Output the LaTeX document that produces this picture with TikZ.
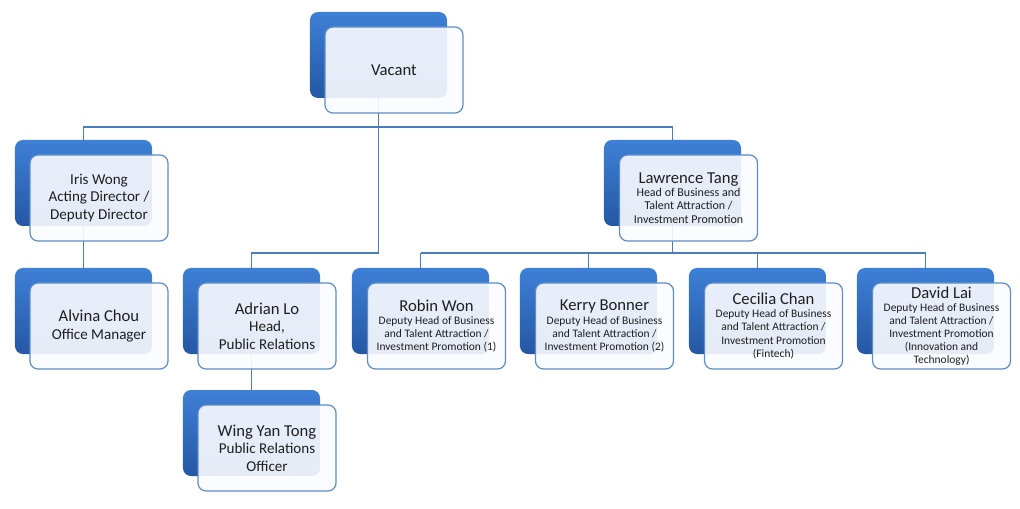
\documentclass[tikz,border=0pt]{standalone}
\usepackage{fontspec}
\setmainfont{Carlito}
\usetikzlibrary{positioning,calc}
\definecolor{orgtop}{RGB}{62,128,214}
\definecolor{orgbot}{RGB}{37,87,164}
\definecolor{orgline}{RGB}{74,126,187}
\definecolor{orgedge}{RGB}{92,140,204}
\definecolor{orgfill}{RGB}{251,252,255}
\newcommand{\nmsz}{\fontsize{12.5}{15}\selectfont}
\newcommand{\midsz}{\fontsize{11.3}{13}\selectfont}
\newcommand{\subsz}{\fontsize{8.6}{9.8}\selectfont}
\newcommand{\lawsz}{\fontsize{9}{10}\selectfont}

\begin{document}
\begin{tikzpicture}[x=0.75pt, y=-0.75pt,
  backbox/.style={rectangle, rounded corners=6pt, minimum width=102.8pt, minimum height=64.5pt,
    inner sep=0pt, top color=orgtop, bottom color=orgbot},
  frontbox/.style={rectangle, rounded corners=6pt, minimum width=103.5pt, minimum height=64.5pt,
    inner sep=1pt, draw=orgedge, line width=0.9pt, fill=orgfill, fill opacity=0.9,
    draw opacity=1, text opacity=1, text=black!88, align=center},
  conn/.style={orgline, line width=0.8pt}]
\useasboundingbox (0,0) rectangle (1020,509);
% back boxes
\foreach \nm/\cx/\cy in {vac/378.5/55, iris/83.5/183, alv/83.5/311, adr/251.5/311, wing/251.5/433,
  law/672.5/183, rob/420.5/311, ker/588.5/311, cec/757.5/311, dav/925.5/311} {
  \node[backbox] (\nm b) at (\cx,\cy) {};
}
% buses
\coordinate (topbus) at (0,127);
\coordinate (midbus) at (0,253);
% connectors
\draw[conn] (irisb.north) -- (irisb.north |- topbus) -- (lawb.north |- topbus) -- (lawb.north);
\draw[conn] (vacb.south) -- (vacb.south |- midbus) -- (adrb.north |- midbus) -- (adrb.north);
\draw[conn] (irisb.south) -- (alvb.north);
\draw[conn] (adrb.south) -- (wingb.north);
\draw[conn] (lawb.south) -- (lawb.south |- midbus);
\draw[conn] (robb.north |- midbus) -- (davb.north |- midbus);
\foreach \nm in {rob, ker, cec, dav}
  \draw[conn] (\nm b.north |- midbus) -- (\nm b.north);
% front boxes
\node[frontbox, font=\nmsz] (vac) at ([shift={(15.5,15)}]vacb.center) {Vacant};
\node[frontbox, font=\midsz] (iris) at ([shift={(15.5,15)}]irisb.center)
  {Iris Wong\\Acting Director /\\Deputy Director};
\node[frontbox, font=\midsz] (alv) at ([shift={(15.5,15)}]alvb.center)
  {{\nmsz Alvina Chou}\\Office Manager};
\node[frontbox, font=\midsz] (adr) at ([shift={(15.5,15)}]adrb.center)
  {{\nmsz Adrian Lo}\\Head,\\Public Relations};
\node[frontbox, font=\midsz] (wing) at ([shift={(15.5,15)}]wingb.center)
  {{\nmsz Wing Yan Tong}\\Public Relations\\Officer};
\node[frontbox, font=\lawsz] (law) at ([shift={(16,15)}]lawb.center)
  {{\nmsz Lawrence Tang}\\Head of Business and\\Talent Attraction /\\Investment Promotion};
% deputies
\foreach \nm/\txt in {rob/{{\nmsz Robin Won}\\Deputy Head of Business\\and Talent Attraction /\\Investment Promotion (1)},
  ker/{{\nmsz Kerry Bonner}\\Deputy Head of Business\\and Talent Attraction /\\Investment Promotion (2)},
  cec/{{\nmsz Cecilia Chan}\\Deputy Head of Business\\and Talent Attraction /\\Investment Promotion\\(Fintech)},
  dav/{{\nmsz David Lai}\\Deputy Head of Business\\and Talent Attraction /\\Investment Promotion\\(Innovation and\\Technology)}} {
  \node[frontbox, font=\subsz] (\nm) at ([shift={(16,15)}]\nm b.center) {\txt};
}
\end{tikzpicture}
\end{document}
